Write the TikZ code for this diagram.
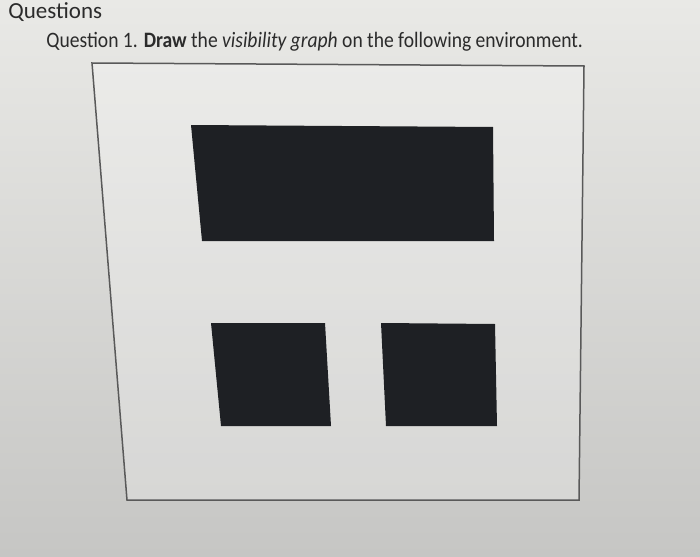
\documentclass[tikz,border=0pt]{standalone}
\usepackage{fontspec}
\setmainfont{Carlito}
\definecolor{screentop}{HTML}{E9E9E6}
\definecolor{screenbot}{HTML}{C6C6C4}
\definecolor{obstacle}{HTML}{1E2024}
\definecolor{inktext}{HTML}{2B2B2B}
\begin{document}
\begin{tikzpicture}[x=0.5pt,y=-0.5pt]
\shade[top color=screentop,bottom color=screenbot] (0,0) rectangle (700,556);
\useasboundingbox (0,0) rectangle (700,556);
% heading
\node[anchor=base west,inner sep=0pt,text=inktext,font=\fontsize{11.5}{14}\selectfont] (title) at (8,19) {Questions};
\node[anchor=base west,inner sep=0pt,text=inktext,font=\fontsize{11}{14}\selectfont] (task) at (46,48)
  {\scalebox{0.89}[1]{Question 1. \textbf{Draw} the \textit{visibility graph} on the following environment.}};
% environment
\fill[white,opacity=0.25] (92,63) -- (584,66) -- (579,500) -- (127,500) -- cycle;
\draw[black!65,line width=0.75pt] (92,63) -- (584,66) -- (579,500) -- (127,500) -- cycle;
% obstacles
\fill[obstacle] (191,125) -- (493,127) -- (494,241) -- (202,241) -- cycle;
\fill[obstacle] (211,323) -- (325,323) -- (331,426) -- (221,426) -- cycle;
\fill[obstacle] (381,323) -- (495,324) -- (497,426) -- (386,426) -- cycle;
\end{tikzpicture}
\end{document}
